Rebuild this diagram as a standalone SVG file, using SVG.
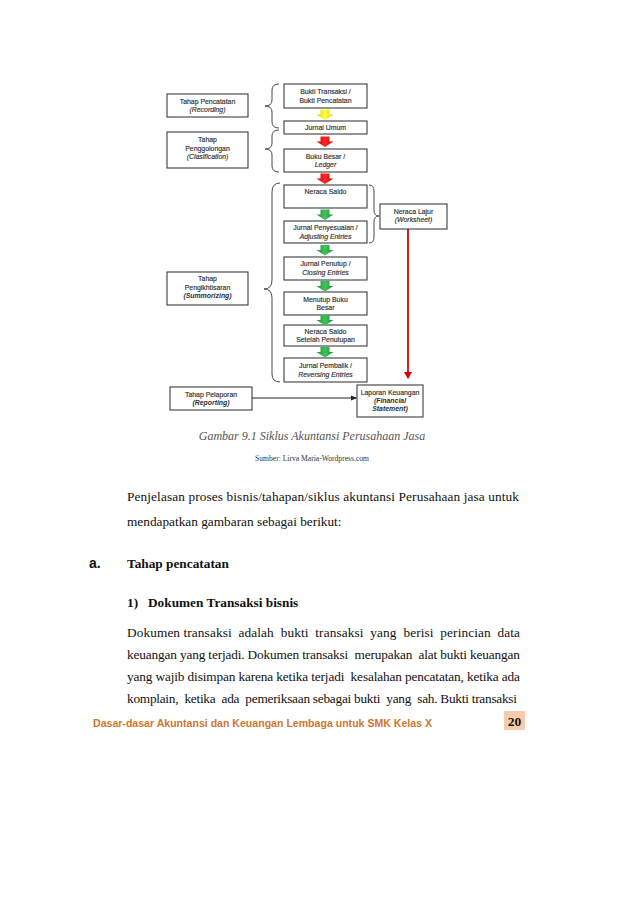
<svg xmlns="http://www.w3.org/2000/svg" width="638" height="901" viewBox="0 0 638 901">
<defs>
<style>
.box{fill:#fff;stroke:#3c3c3c;stroke-width:1.1}
.t{font-family:"Liberation Sans",Arial,sans-serif;font-size:6.9px;fill:#2e2e2e;stroke:#2e2e2e;stroke-width:0.15;text-anchor:middle}
.i{font-style:italic}
.b{font-weight:bold;stroke-width:0}
.br{fill:none;stroke:#4a4a4a;stroke-width:1}
.body{font-family:"Liberation Serif","Times New Roman",serif;font-size:13.3px;fill:#111}
</style>
<linearGradient id="gy" x1="0" y1="0" x2="1" y2="0"><stop offset="0" stop-color="#d9cc00"/><stop offset="0.5" stop-color="#ffff40"/><stop offset="1" stop-color="#d9cc00"/></linearGradient>
<linearGradient id="gr" x1="0" y1="0" x2="1" y2="0"><stop offset="0" stop-color="#c00000"/><stop offset="0.5" stop-color="#ff2a2a"/><stop offset="1" stop-color="#c00000"/></linearGradient>
<linearGradient id="gg" x1="0" y1="0" x2="1" y2="0"><stop offset="0" stop-color="#1e8a34"/><stop offset="0.5" stop-color="#3fc55a"/><stop offset="1" stop-color="#1e8a34"/></linearGradient>
<path id="da" d="M-4.5,0 H4.5 V5 H8.5 L0,10.5 L-8.5,5 H-4.5 Z"/>
<marker id="mb" markerWidth="6" markerHeight="6" refX="5" refY="3" orient="auto" markerUnits="userSpaceOnUse"><path d="M0,0.5 L6,3 L0,5.5 Z" fill="#222"/></marker>
<marker id="mr" markerWidth="8" markerHeight="8" refX="4" refY="7" orient="0" markerUnits="userSpaceOnUse"><path d="M0,1 L8,1 L4,8 Z" fill="#e00000"/></marker>
</defs>
<rect width="638" height="901" fill="#fff"/>

<!-- left stage nodes -->
<g id="tahap-pencatatan"><rect class="box" x="167" y="94" width="81" height="23"/><text class="t" x="207.5" y="103.5">Tahap Pencatatan</text><text class="t i" x="207.5" y="112">(Recording)</text></g>
<g id="tahap-penggolongan"><rect class="box" x="167" y="132" width="81" height="36"/><text class="t" x="207.5" y="142">Tahap</text><text class="t" x="207.5" y="150.5">Penggolongan</text><text class="t i" x="207.5" y="159">(Clasification)</text></g>
<g id="tahap-pengikhtisaran"><rect class="box" x="167" y="272" width="81" height="33"/><text class="t" x="207.5" y="281">Tahap</text><text class="t" x="207.5" y="289.5">Pengikhtisaran</text><text class="t i b" x="207.5" y="298">(Summorizing)</text></g>
<g id="tahap-pelaporan"><rect class="box" x="170" y="387" width="82" height="23"/><text class="t" x="211" y="396.5">Tahap Pelaporan</text><text class="t i b" x="211" y="405">(Reporting)</text></g>

<!-- centre nodes -->
<g id="bukti"><rect class="box" x="284" y="84" width="83" height="24"/><text class="t" x="325.5" y="94">Bukti Transaksi /</text><text class="t" x="325.5" y="102.5">Bukti Pencatatan</text></g>
<g id="jurnal-umum"><rect class="box" x="284" y="121" width="83" height="13"/><text class="t" x="325.5" y="130">Jurnal Umum</text></g>
<g id="buku-besar"><rect class="box" x="284" y="149" width="83" height="23"/><text class="t" x="325.5" y="158.5">Buku Besar /</text><text class="t i" x="325.5" y="167">Ledger</text></g>
<g id="neraca-saldo"><rect class="box" x="284" y="185" width="83" height="23"/><text class="t" x="325.5" y="194">Neraca Saldo</text></g>
<g id="jurnal-penyesuaian"><rect class="box" x="284" y="221" width="83" height="22"/><text class="t" x="325.5" y="230">Jurnal Penyesuaian /</text><text class="t i" x="325.5" y="238.5">Adjusting Entries</text></g>
<g id="jurnal-penutup"><rect class="box" x="284" y="257" width="83" height="23"/><text class="t" x="325.5" y="266">Jurnal Penutup /</text><text class="t i" x="325.5" y="274.5">Closing Entries</text></g>
<g id="menutup-buku-besar"><rect class="box" x="284" y="292" width="83" height="23"/><text class="t" x="325.5" y="301.5">Menutup Buku</text><text class="t" x="325.5" y="310">Besar</text></g>
<g id="neraca-saldo-setelah"><rect class="box" x="284" y="325" width="83" height="21"/><text class="t" x="325.5" y="333.5">Neraca Saldo</text><text class="t" x="325.5" y="342">Setelah Penutupan</text></g>
<g id="jurnal-pembalik"><rect class="box" x="284" y="358" width="83" height="24"/><text class="t" x="325.5" y="368">Jurnal Pembalik /</text><text class="t i" x="325.5" y="376.5">Reversing Entries</text></g>

<!-- right nodes -->
<g id="neraca-lajur"><rect class="box" x="380" y="204" width="67" height="25"/><text class="t" x="413.5" y="213.5">Neraca Lajur</text><text class="t i" x="413.5" y="222">(Worksheet)</text></g>
<g id="laporan-keuangan"><rect class="box" x="357" y="385" width="66" height="32"/><text class="t" x="390" y="395">Laporan Keuangan</text><text class="t i b" x="390" y="403">(Financial</text><text class="t i b" x="390" y="411">Statement)</text></g>

<!-- connectors -->
<g id="connectors">
<use href="#da" x="325" y="109.5" fill="url(#gy)"/>
<use href="#da" x="325" y="136.5" fill="url(#gr)"/>
<use href="#da" x="325" y="173.5" fill="url(#gr)"/>
<use href="#da" x="325" y="209.5" fill="url(#gg)"/>
<use href="#da" x="325" y="245" fill="url(#gg)"/>
<use href="#da" x="325" y="281" fill="url(#gg)"/>
<use href="#da" x="325" y="315" fill="url(#gg)"/>
<use href="#da" x="325" y="347" fill="url(#gg)"/>
<path class="br" d="M279,84 Q272,84 272,90 L272,100 Q272,106 265,106 Q272,106 272,112 L272,122 Q272,128 279,128"/>
<path class="br" d="M279,130 Q272,130 272,136 L272,143 Q272,149 265,149 Q272,149 272,155 L272,166 Q272,172 279,172"/>
<path class="br" d="M280,183 Q272,183 272,192 L272,280 Q272,289 264,289 Q272,289 272,298 L272,374 Q272,382 280,382"/>
<path class="br" d="M369,185 Q374,185 374,191 L374,210 Q374,216 379,216 Q374,216 374,222 L374,237 Q374,243 369,243"/>
<line x1="408" y1="229" x2="408" y2="378" stroke="#e00000" stroke-width="1.8" marker-end="url(#mr)"/>
<line x1="252" y1="398" x2="356" y2="398" stroke="#222" stroke-width="1" marker-end="url(#mb)"/>
</g>

<!-- caption -->
<text x="312" y="440" text-anchor="middle" font-family="'Liberation Serif','Times New Roman',serif" font-style="italic" font-size="12" fill="#555">Gambar  9.1  Siklus Akuntansi Perusahaan Jasa</text>
<text x="312" y="461" text-anchor="middle" font-family="'Liberation Serif','Times New Roman',serif" font-size="7.6" fill="#333">Sumber: Lirva Maria-Wordpress.com</text>

<!-- body text -->
<text class="body" x="127" y="501" textLength="392" lengthAdjust="spacing">Penjelasan proses bisnis/tahapan/siklus akuntansi Perusahaan jasa untuk</text>
<text class="body" x="127" y="526">mendapatkan gambaran sebagai berikut:</text>
<text x="89" y="568" font-family="'Liberation Sans',Arial,sans-serif" font-weight="bold" font-size="14" fill="#111">a.</text>
<text class="body b" x="127" y="568">Tahap pencatatan</text>
<text class="body b" x="127" y="607">1)</text>
<text class="body b" x="148" y="607">Dokumen Transaksi bisnis</text>
<text class="body" x="127" y="637" textLength="393" lengthAdjust="spacing" style="white-space:pre">Dokumen transaksi  adalah  bukti  transaksi  yang  berisi  perincian  data</text>
<text class="body" x="127" y="659" textLength="393" lengthAdjust="spacing" style="white-space:pre">keuangan yang terjadi. Dokumen transaksi  merupakan  alat bukti keuangan</text>
<text class="body" x="127" y="681" textLength="393" lengthAdjust="spacing" style="white-space:pre">yang wajib disimpan karena ketika terjadi  kesalahan pencatatan, ketika ada</text>
<text class="body" x="127" y="703" textLength="390" lengthAdjust="spacing" style="white-space:pre">komplain,  ketika  ada  pemeriksaan sebagai bukti  yang  sah. Bukti transaksi</text>

<!-- footer -->
<text x="93" y="727" font-family="'Liberation Sans',Arial,sans-serif" font-weight="bold" font-size="11" fill="#d2752e" textLength="339" lengthAdjust="spacingAndGlyphs">Dasar-dasar Akuntansi dan Keuangan Lembaga untuk SMK Kelas X</text>
<rect x="504" y="711" width="21" height="19" fill="#f8cbab"/>
<text x="514.5" y="726" text-anchor="middle" font-family="'Liberation Serif','Times New Roman',serif" font-weight="bold" font-size="13.5" fill="#111">20</text>
</svg>
